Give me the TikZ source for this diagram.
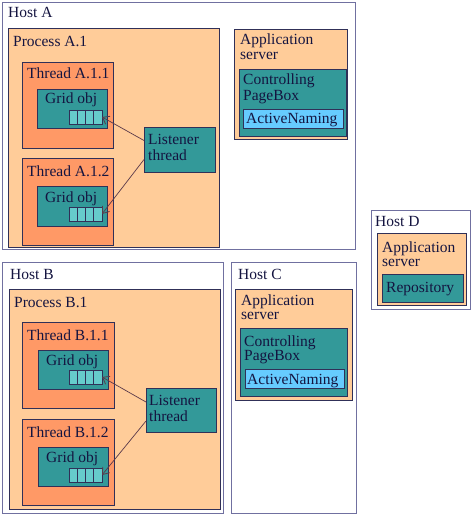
\documentclass[tikz,border=0pt]{standalone}
\usepackage{fontspec}
\setmainfont{Liberation Serif}
\usetikzlibrary{arrows.meta}
\definecolor{peach}{HTML}{FFCC99}
\definecolor{thr}{HTML}{FF9966}
\definecolor{teal2}{HTML}{339999}
\definecolor{qcol}{HTML}{66CCCC}
\definecolor{ancol}{HTML}{66CCFF}
\definecolor{ink}{HTML}{141440}
\definecolor{hostline}{HTML}{7070A0}
\definecolor{boxline}{HTML}{303058}
\definecolor{arrcol}{HTML}{5A3A4A}
\newcommand\mybox[6]{\node[#1,anchor=north west,minimum width={(#5-#3)*1pt},minimum height={(#6-#4)*1pt}] (#2) at (#3,#4) {};}
\tikzset{
  base/.style={draw,inner sep=0pt,outer sep=0pt,rectangle},
  hostbox/.style={base,fill=white,draw=hostline,line width=0.9pt},
  procbox/.style={base,fill=peach,draw=boxline,line width=0.6pt},
  thrbox/.style={base,fill=thr,draw=boxline,line width=0.6pt},
  tealbox/.style={base,fill=teal2,draw=boxline,line width=0.6pt},
  qbox/.style={base,fill=qcol,draw=boxline,line width=0.6pt},
  anbox/.style={base,fill=ancol,draw=boxline,line width=0.8pt},
  lbl/.style={anchor=base west,inner sep=0pt,font=\fontsize{15.5}{17}\selectfont,text=ink},
  conn/.style={draw=arrcol,line width=0.7pt,-{Straight Barb[length=6pt,width=9pt,line width=0.8pt]}},
}
\begin{document}
\begin{tikzpicture}[x=1pt,y=-1pt]
\useasboundingbox (0,0) rectangle (473,516);
% Hosts
\mybox{hostbox}{hA}{2}{2}{355}{249}
\mybox{hostbox}{hB}{2}{262}{223}{513}
\mybox{hostbox}{hC}{231}{262}{356}{513}
\mybox{hostbox}{hD}{371}{210}{470}{309}
% Host A process
\mybox{procbox}{pA}{8}{28}{219}{247}
\mybox{thrbox}{tA1}{22}{62}{113}{148}
\mybox{tealbox}{gA1}{37}{89}{107}{128}
\mybox{qbox}{qA1}{69}{110}{102}{124}
\mybox{thrbox}{tA2}{22}{158}{113}{245}
\mybox{tealbox}{gA2}{37}{186}{107}{226}
\mybox{qbox}{qA2}{69}{207}{102}{221}
\mybox{tealbox}{lA}{144}{127}{215}{172}
% Host A app server
\mybox{procbox}{aA}{234}{29}{347}{139}
\mybox{tealbox}{cA}{239}{69}{346}{136}
\mybox{anbox}{nA}{243}{109}{343}{128}
% Host B process
\mybox{procbox}{pB}{9}{289}{220}{509}
\mybox{thrbox}{tB1}{22}{322}{114}{408}
\mybox{tealbox}{gB1}{38}{350}{108}{389}
\mybox{qbox}{qB1}{69}{370}{102}{384}
\mybox{thrbox}{tB2}{22}{419}{114}{505}
\mybox{tealbox}{gB2}{38}{447}{108}{486}
\mybox{qbox}{qB2}{69}{468}{102}{482}
\mybox{tealbox}{lB}{146}{388}{216}{432}
% Host C app server
\mybox{procbox}{aC}{235}{289}{352}{400}
\mybox{tealbox}{cC}{240}{328}{347}{396}
\mybox{anbox}{nC}{245}{369}{344}{388}
% Host D app server
\mybox{procbox}{aD}{377}{233}{466}{305}
\mybox{tealbox}{rD}{382}{274}{463}{302}
% queue cell separators
\foreach \q in {qA1,qA2,qB1,qB2}{
  \foreach \k in {1,2,3}{
    \draw[boxline,line width=0.6pt] ([xshift=\k*8.25pt]\q.north west) -- ([xshift=\k*8.25pt]\q.south west);
  }
}
% Labels
\node[lbl] (thA) at (8,18) {Host A};
\node[lbl] (tpA) at (13,47) {Process A.1};
\node[lbl] (ttA1) at (27,79) {Thread A.1.1};
\node[lbl] (tgA1) at (45,103) {Grid obj};
\node[lbl] (ttA2) at (27,176) {Thread A.1.2};
\node[lbl] (tgA2) at (45,202) {Grid obj};
\node[lbl] (tlA1) at (148,144) {Listener};
\node[lbl] (tlA2) at (148,160) {thread};
\node[lbl] (taA1) at (240,45) {Application};
\node[lbl] (taA2) at (240,60) {server};
\node[lbl] (tcA1) at (243,85) {Controlling};
\node[lbl] (tcA2) at (243,100) {PageBox};
\node[lbl] (tnA) at (246,124) {ActiveNaming};
\node[lbl] (thB) at (10,279) {Host B};
\node[lbl] (tpB) at (14,307) {Process B.1};
\node[lbl] (ttB1) at (27,340) {Thread B.1.1};
\node[lbl] (tgB1) at (46,365) {Grid obj};
\node[lbl] (ttB2) at (27,437) {Thread B.1.2};
\node[lbl] (tgB2) at (46,462) {Grid obj};
\node[lbl] (tlB1) at (149,405) {Listener};
\node[lbl] (tlB2) at (149,421) {thread};
\node[lbl] (thC) at (238,279) {Host C};
\node[lbl] (taC1) at (241,305) {Application};
\node[lbl] (taC2) at (241,319) {server};
\node[lbl] (tcC1) at (244,346) {Controlling};
\node[lbl] (tcC2) at (244,360) {PageBox};
\node[lbl] (tnC) at (247,384) {ActiveNaming};
\node[lbl] (thD) at (375,226) {Host D};
\node[lbl] (taD1) at (382,252) {Application};
\node[lbl] (taD2) at (382,266) {server};
\node[lbl] (trD) at (386,292) {Repository};
% Arrows
\draw[conn] ([yshift=9pt]lA.west) -- (qA1.east);
\draw[conn] ([yshift=-10pt]lA.west) -- (qA2.east);
\draw[conn] ([yshift=8pt]lB.west) -- (qB1.east);
\draw[conn] ([yshift=-11pt]lB.west) -- (qB2.east);
\end{tikzpicture}
\end{document}
